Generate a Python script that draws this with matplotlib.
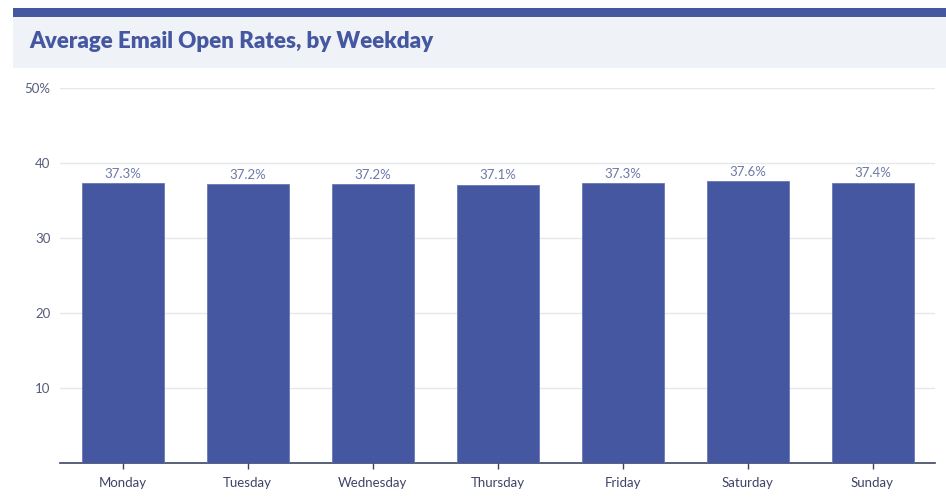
import numpy as np
import matplotlib.pyplot as plt
from matplotlib.patches import Rectangle

days = ["Monday", "Tuesday", "Wednesday", "Thursday", "Friday", "Saturday", "Sunday"]
open_rate = [37.3, 37.2, 37.2, 37.1, 37.3, 37.6, 37.4]
yticks = [10, 20, 30, 40, 50]
ytick_labels = ["10", "20", "30", "40", "50%"]

plt.rcParams['font.family'] = ['Lato', 'DejaVu Sans']

blue = '#4557a1'
fig = plt.figure(figsize=(9.46, 4.99), dpi=100)

# header
fig.patches.append(Rectangle((13/946, 1 - 68/499), 1, 51/499, transform=fig.transFigure,
                             facecolor='#eff3f8', edgecolor='none', zorder=0))
fig.patches.append(Rectangle((13/946, 1 - 17/499), 1, 9/499, transform=fig.transFigure,
                             facecolor=blue, edgecolor='none', zorder=1))
fig.text(29/946, 1 - 41/499, "Average Email Open Rates, by Weekday", fontsize=16.1,
         fontweight='heavy', color='#4557a1', va='center', ha='left')

ax = fig.add_axes([60/946, 36/499, 875/946, 375/499])
x = np.arange(len(days))
ax.bar(x, open_rate, width=0.656, color=blue, edgecolor='#6a78b5', linewidth=0.6, zorder=3)
for xi, v in zip(x, open_rate):
    ax.text(xi, v + 0.45, f"{v}%", ha='center', va='bottom', fontsize=9.5, color='#6e78a6')

ax.set_xlim(-0.5, len(days) - 0.5)
ax.set_ylim(0, 50)
ax.set_yticks(yticks)
ax.set_yticklabels(ytick_labels)
ax.set_xticks(x)
ax.set_xticklabels(days)
ax.grid(axis='y', color='#e5e7ea', linewidth=1, zorder=0)
ax.tick_params(axis='y', length=0, pad=7, labelsize=9.5, labelcolor='#555c7a')
ax.tick_params(axis='x', length=4, width=1, color='#3b4560', pad=6, labelsize=9.5, labelcolor='#3d4466')
for s in ['top', 'right', 'left']:
    ax.spines[s].set_visible(False)
ax.spines['bottom'].set_color('#3b4560')
ax.spines['bottom'].set_linewidth(1.2)

fig.savefig('out.png', dpi=100)
